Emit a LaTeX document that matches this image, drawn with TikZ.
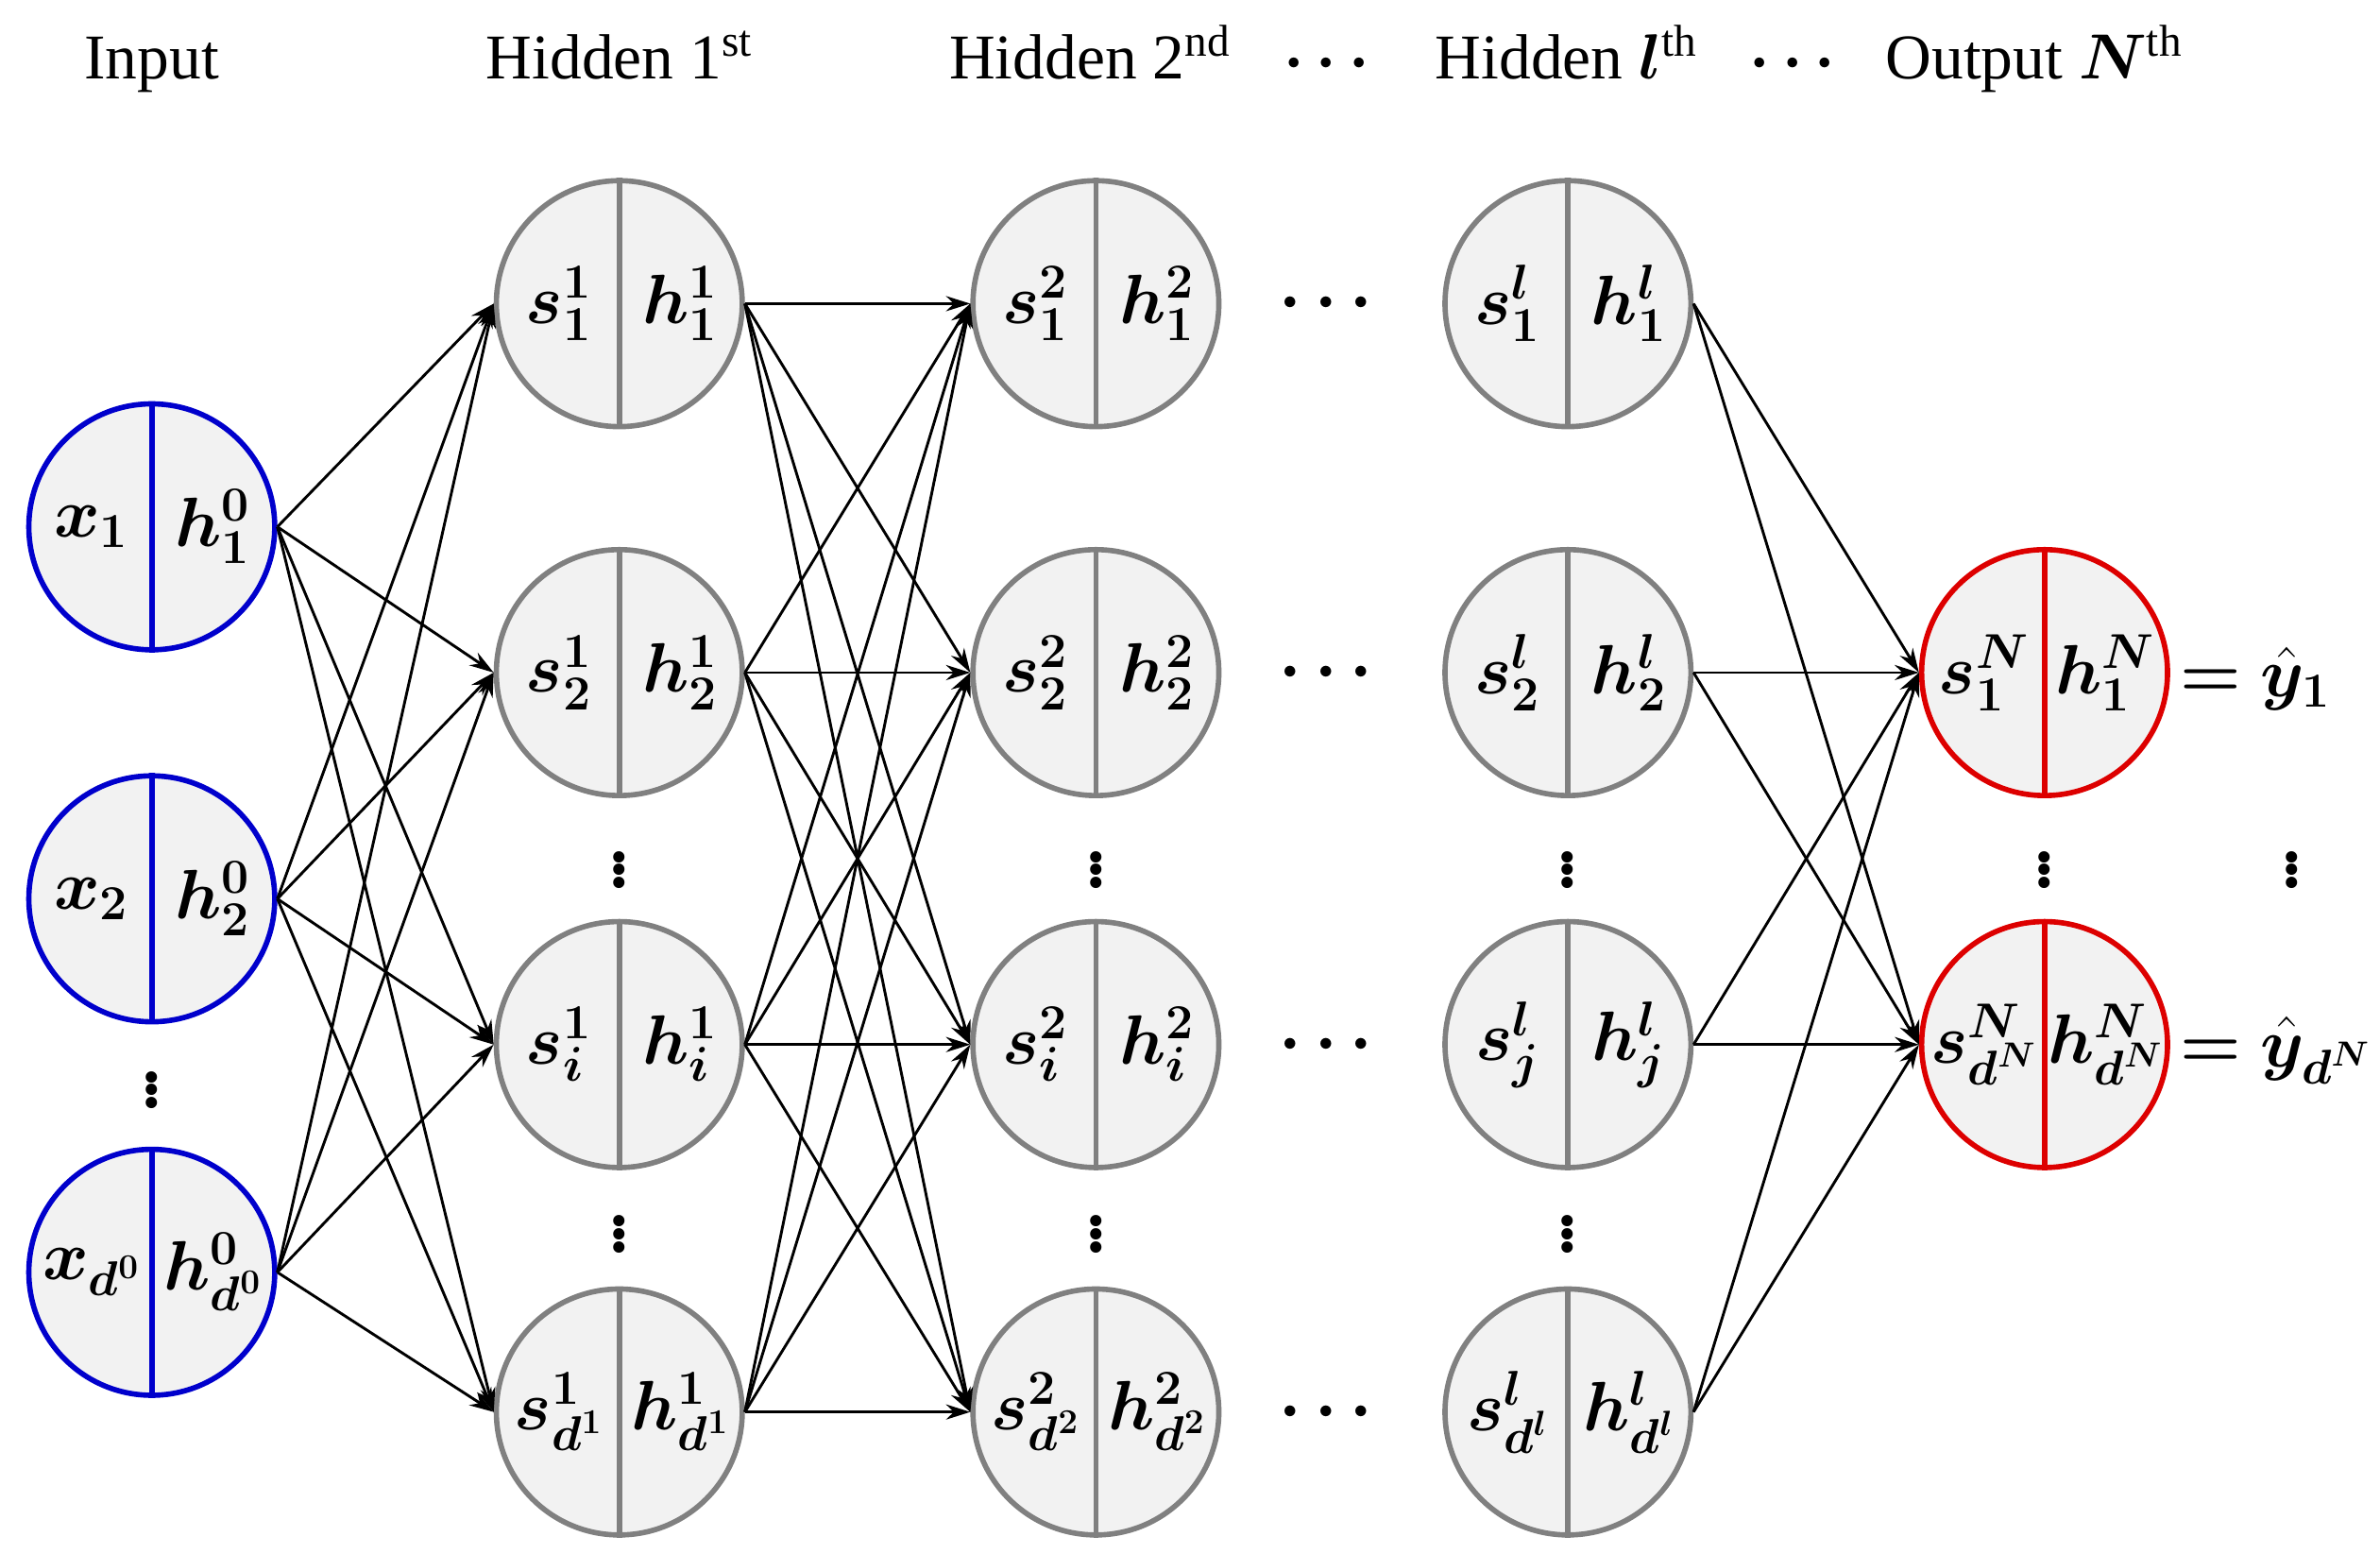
\RequirePackage{fix-cm}
\documentclass[tikz,border=0pt]{standalone}
\usetikzlibrary{arrows.meta}
\usepackage{amsmath}
\usepackage{bm}
\usepackage{fontspec}
\setmainfont{Liberation Serif}
\begin{document}
\begin{tikzpicture}[x=1pt,y=-1pt,
  neuron/.style={circle,minimum size=162pt,draw=#1,line width=3.5pt,fill=black!5,inner sep=0pt},
  arr/.style={-{Stealth[length=16pt,width=10pt]},line width=1.8pt},
  ttl/.style={font=\fontsize{42}{50}\selectfont,anchor=base},
  mth/.style={font=\fontsize{46}{54}\selectfont}]
\useasboundingbox (0,0) rectangle (1568,1023);
\newcommand{\neu}[6]{%
  \node[neuron=#4] (#1) at (#2,#3) {};
  \draw[#4,line width=3.5pt] (#1.north) -- (#1.south);
  \node[mth,anchor=center,inner sep=0pt] at ([xshift=-40pt]#1.center) {$\bm{#5}$};
  \node[mth,anchor=center,inner sep=0pt] at ([xshift=40pt]#1.center) {$\bm{#6}$};}
\definecolor{gr}{RGB}{128,128,128}
\definecolor{bl}{RGB}{0,0,204}
\definecolor{rd}{RGB}{221,0,0}
% titles
\node[ttl] at (100,52) {Input};
\node[ttl] at (408,52) {Hidden 1\textsuperscript{st}};
\node[ttl] at (718,52) {Hidden 2\textsuperscript{nd}};
\node[ttl] at (878,52) {$\bm{\cdots}$};
\node[ttl] at (1032,52) {Hidden $\bm{l}$\textsuperscript{th}};
\node[ttl] at (1185,52) {$\bm{\cdots}$};
\node[ttl] at (1340,52) {Output $\bm{N}$\textsuperscript{th}};
% input
\neu{i1}{100}{347}{bl}{x_1}{h^0_1}
\neu{i2}{100}{592}{bl}{x_2}{h^0_2}
\neu{i3}{100}{838}{bl}{x_{d^0}}{h^0_{d^0}}
% hidden 1
\neu{a1}{408}{200}{gr}{s^1_1}{h^1_1}
\neu{a2}{408}{443}{gr}{s^1_2}{h^1_2}
\neu{a3}{408}{688}{gr}{s^1_i}{h^1_i}
\neu{a4}{408}{930}{gr}{s^1_{d^1}}{h^1_{d^1}}
% hidden 2
\neu{b1}{722}{200}{gr}{s^2_1}{h^2_1}
\neu{b2}{722}{443}{gr}{s^2_2}{h^2_2}
\neu{b3}{722}{688}{gr}{s^2_i}{h^2_i}
\neu{b4}{722}{930}{gr}{s^2_{d^2}}{h^2_{d^2}}
% hidden l
\neu{c1}{1033}{200}{gr}{s^l_1}{h^l_1}
\neu{c2}{1033}{443}{gr}{s^l_2}{h^l_2}
\neu{c3}{1033}{688}{gr}{s^l_j}{h^l_j}
\neu{c4}{1033}{930}{gr}{s^l_{d^l}}{h^l_{d^l}}
% output
\neu{o1}{1347}{443}{rd}{s^N_1}{h^N_1}
\neu{o2}{1347}{688}{rd}{s^N_{d^N}}{h^N_{d^N}}
\node[mth,anchor=west,inner sep=0pt] (y1) at (1436,447) {$\bm{=\hat{y}_1}$};
\node[mth,anchor=west,inner sep=0pt] (y2) at (1436,692) {$\bm{=\hat{y}_{d^N}}$};
% vertical dots
\foreach \p in {(100,715),(408,570),(408,810),(722,570),(722,810),(1033,570),(1033,810),(1347,570),(1510,570)}
  \node[mth,inner sep=0pt] at \p {$\bm{\vdots}$};
% horizontal dots
\foreach \yy in {200,443,688,930}
  \node[mth,inner sep=0pt] at (878,\yy) {$\bm{\cdots}$};
% connections
\foreach \s in {i1,i2,i3} \foreach \t in {a1,a2,a3,a4} \draw[arr] (\s.east) -- (\t.west);
\foreach \s in {a1,a2,a3,a4} \foreach \t in {b1,b2,b3,b4} \draw[arr] (\s.east) -- (\t.west);
\foreach \s in {c1,c2,c3,c4} \foreach \t in {o1,o2} \draw[arr] (\s.east) -- (\t.west);
\end{tikzpicture}
\end{document}
